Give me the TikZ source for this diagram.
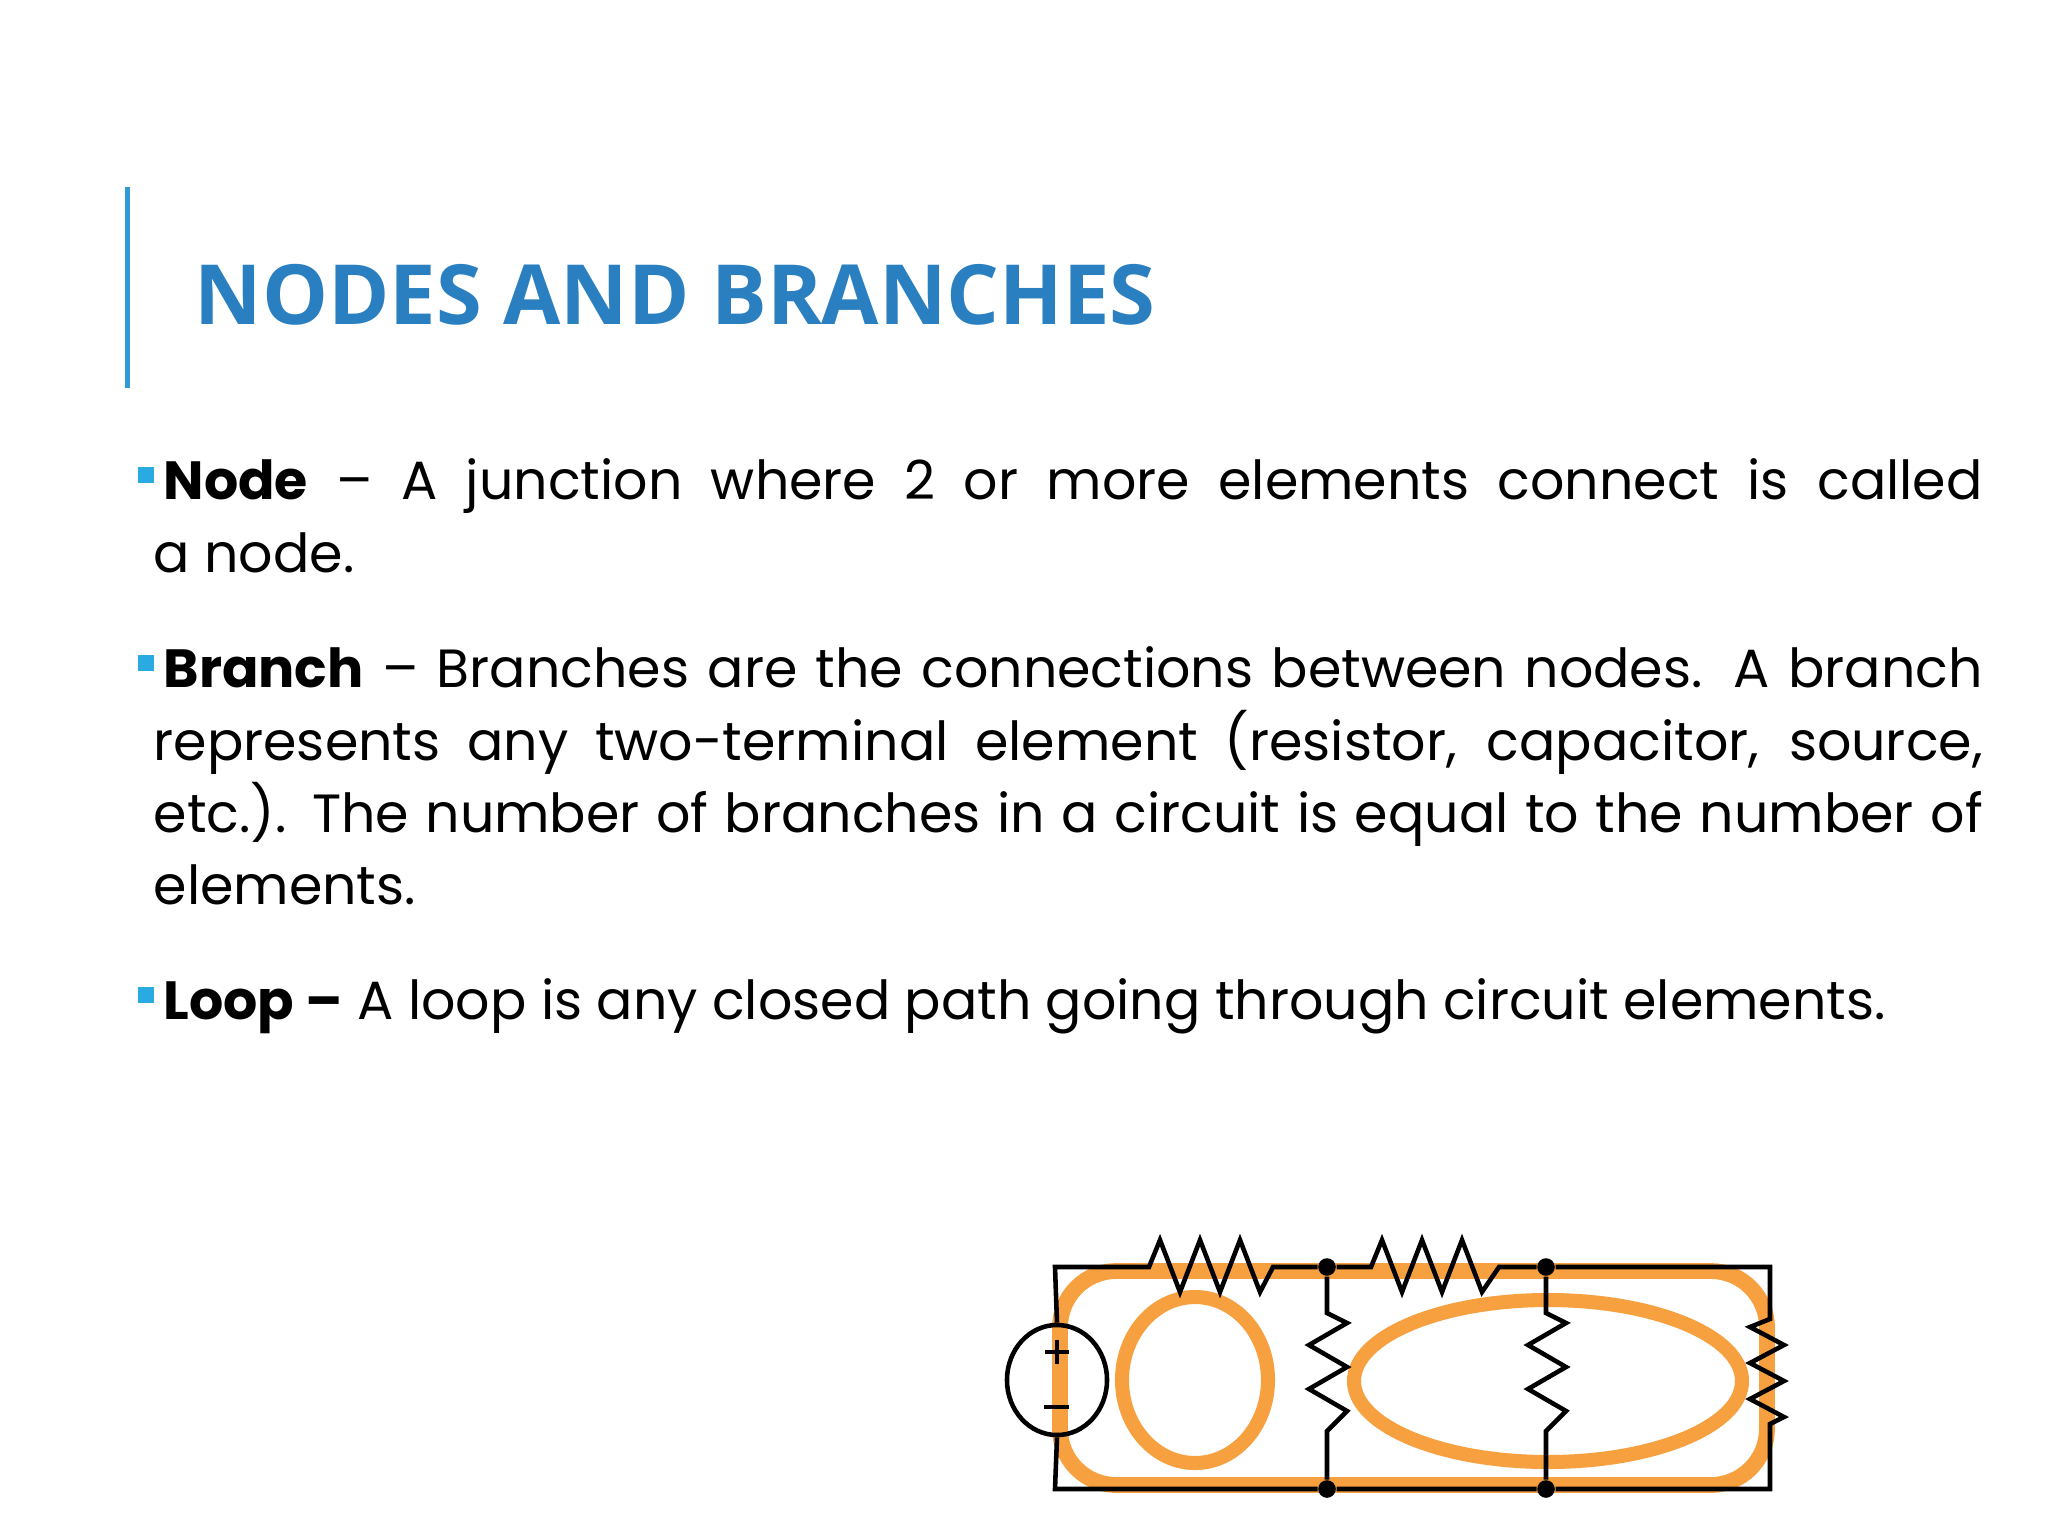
\documentclass[tikz,border=0pt]{standalone}
\usepackage{fontspec}
\usetikzlibrary{shapes.geometric}
\setmainfont{Poppins}
\newfontfamily\titlefont{Open Sans}
\definecolor{barc}{RGB}{46,155,214}
\definecolor{titc}{RGB}{42,127,193}
\definecolor{bulc}{RGB}{41,171,226}
\definecolor{orc}{RGB}{247,160,64}
\begin{document}
\begin{tikzpicture}[x=0.01cm,y=-0.01cm,
  wire/.style={line width=1.3pt,black},
  loopo/.style={line width=4pt,draw=orc},
  dot/.style={circle,fill=black,inner sep=0pt,minimum size=5pt},
  txt/.style={anchor=base west,inner sep=0pt,font=\fontsize{15.3}{20}\selectfont},
  bul/.style={fill=bulc}]
\useasboundingbox (0,0) rectangle (2048,1536);
% title
\fill[barc] (125,187) rectangle (130,388);
\node[anchor=base west,inner sep=0pt,text=titc] (title) at (194,324)
  {\resizebox{9.6cm}{!}{\titlefont\bfseries\fontsize{29}{30}\selectfont NODES AND BRANCHES}};
% bullets
\foreach \yy in {467,655,987} \fill[bul] (138,\yy) rectangle (154,\yy+16);
\node[txt] (l1) at (163,499) {\makebox[18.18cm][s]{\textbf{Node} – A junction where 2 or more elements connect is called}};
\node[txt] (l2) at (153,572) {a node.};
\node[txt] (l3) at (163,687) {\makebox[18.18cm][s]{\textbf{Branch} – Branches are the connections between nodes. A branch}};
\node[txt] (l4) at (153,760) {\makebox[18.28cm][s]{represents any two-terminal element (resistor, capacitor, source,}};
\node[txt] (l5) at (153,832) {\makebox[18.28cm][s]{etc.). The number of branches in a circuit is equal to the number of}};
\node[txt] (l6) at (153,904) {elements.};
\node[txt] (l7) at (163,1019) {\textbf{Loop –} A loop is any closed path going through circuit elements.};
% orange loops
\draw[loopo,line width=4.5pt,rounded corners=16] (1060,1271) -- (1767,1271) -- (1767,1485) -- (1060,1485) -- cycle;
\draw[loopo] (1195,1380) ellipse (73 and 83);
\draw[loopo] (1548,1381) ellipse (194 and 81);
% circuit
\coordinate (tl) at (1055,1267);
\coordinate (bl) at (1055,1489);
\coordinate (tr) at (1770,1267);
\coordinate (br) at (1770,1489);
\node[dot] (n1) at (1327,1267) {};
\node[dot] (n2) at (1546,1267) {};
\node[dot] (n3) at (1327,1489) {};
\node[dot] (n4) at (1546,1489) {};
\node[draw,wire,ellipse,minimum width=1.0cm,minimum height=1.1cm,inner sep=0pt] (src) at (1057,1380) {};
\draw[wire] (src.north) -- (tl) -- (1149,1267) -- ++(11,-27) -- ++(20,52) -- ++(20,-52) -- ++(20,52) -- ++(20,-52) -- ++(20,52) -- (1273,1267) -- (n1);
\draw[wire] (n1) -- (1371,1267) -- ++(11,-27) -- ++(20,52) -- ++(20,-52) -- ++(20,52) -- ++(20,-52) -- ++(20,52) -- (1499,1267) -- (n2) -- (tr) -- (1770,1319) -- ++(-20,8) -- ++(34,18) -- ++(-34,18) -- ++(34,18) -- ++(-34,18) -- ++(34,18) -- (1770,1424) -- (br) -- (n4) -- (n3) -- (bl) -- (src.south);
\foreach \n/\m/\xx in {n1/n3/1327,n2/n4/1546}
  \draw[wire] (\n) -- (\xx,1313) -- ++(20,10) -- ++(-38,22) -- ++(38,22) -- ++(-38,22) -- ++(38,22) -- ++(-20,20) -- (\xx,1443) -- (\m);
\draw[line width=1.1pt] (1045,1352) -- (1069,1352) (1057,1340) -- (1057,1364) (1044,1407) -- (1069,1407);
\end{tikzpicture}
\end{document}
